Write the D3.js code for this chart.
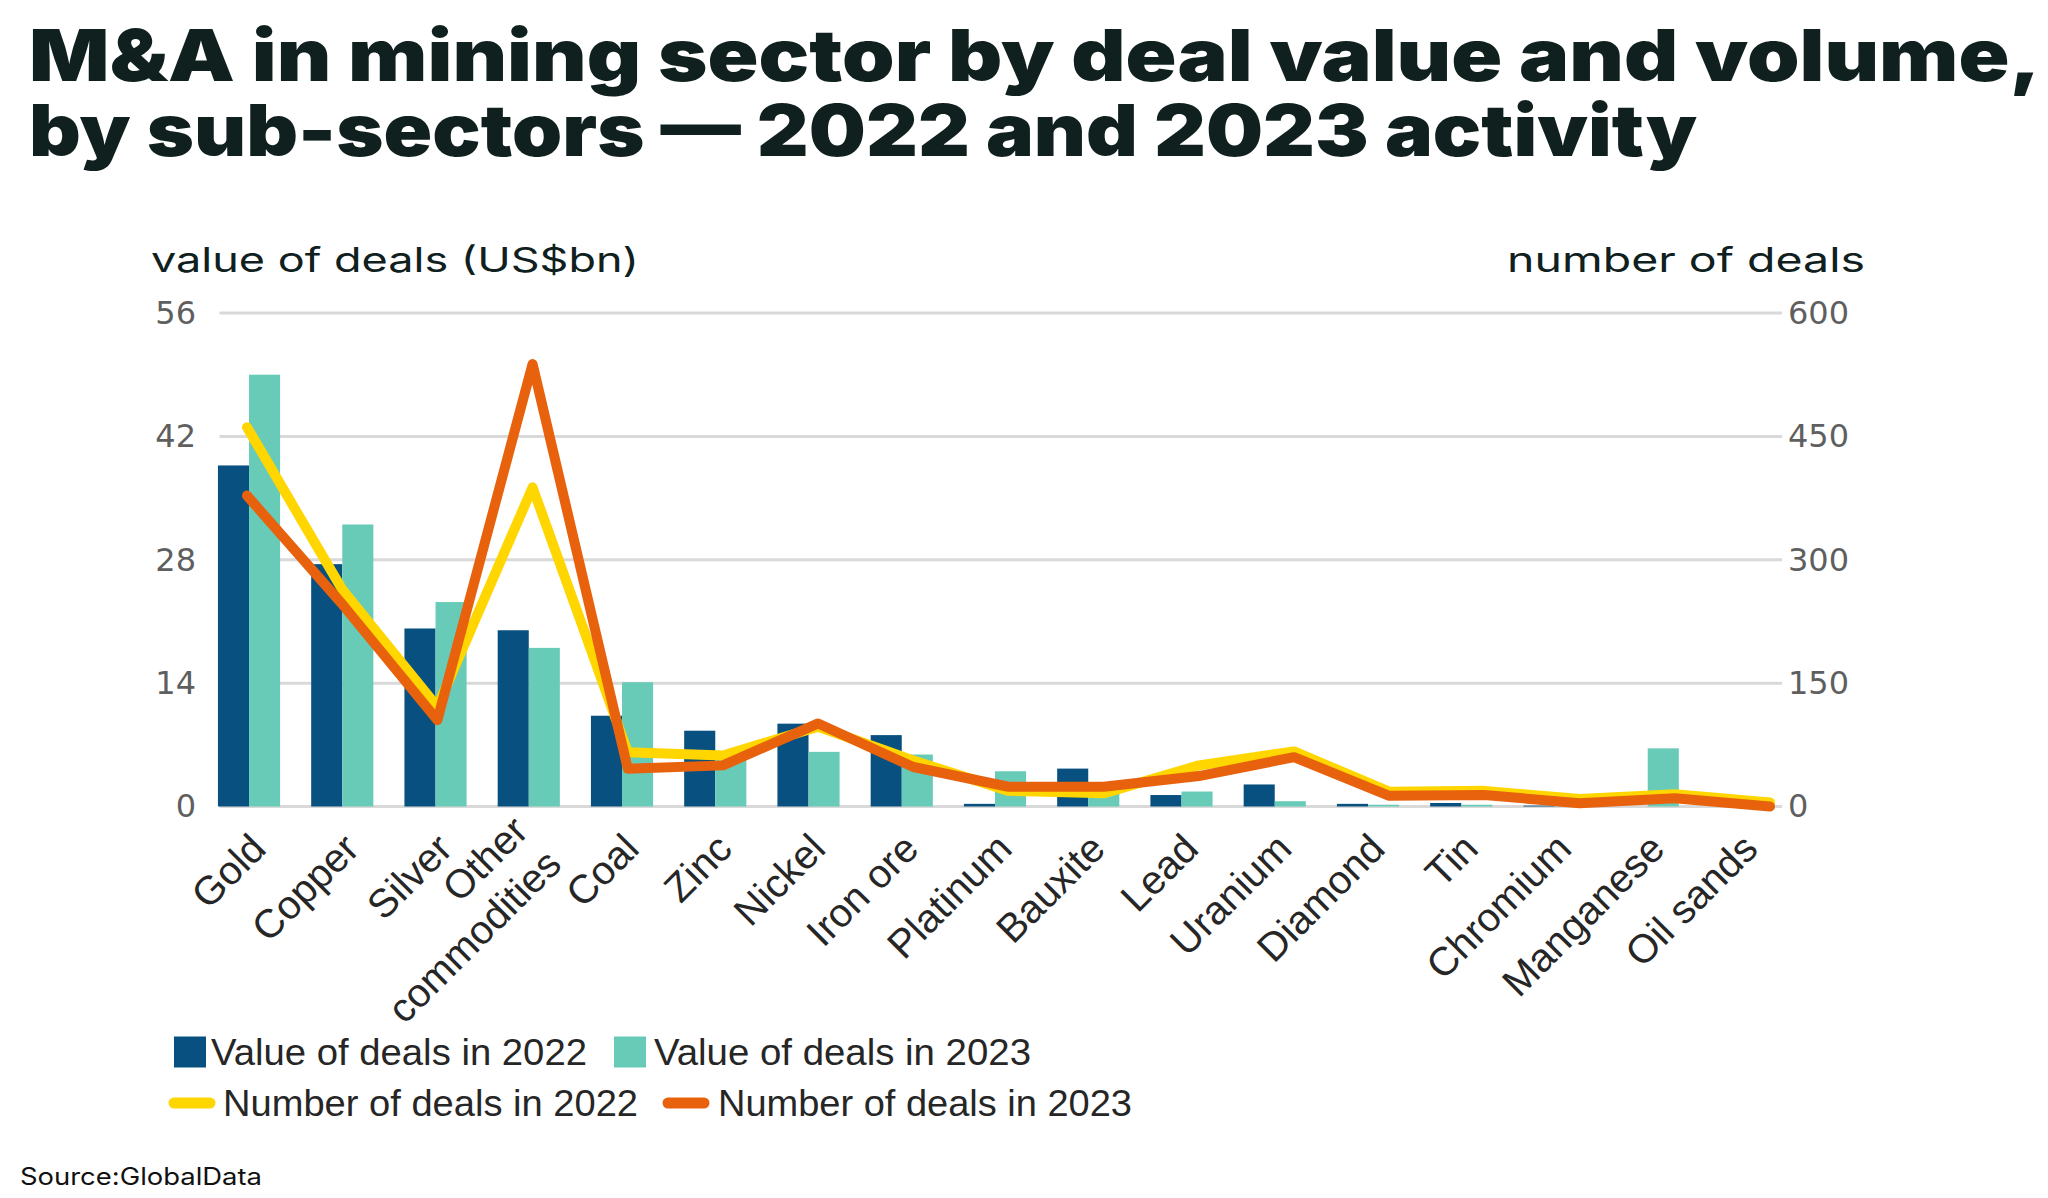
<!DOCTYPE html>
<html>
<head>
<meta charset="utf-8">
<script src="https://cdn.jsdelivr.net/npm/d3@7"></script>
<style>
  body { margin: 0; background: #ffffff; }
  svg { display: block; }
</style>
</head>
<body>
<div id="chart"></div>
<script>
// data
const categories = ["Gold", "Copper", "Silver", "Other commodities", "Coal", "Zinc", "Nickel",
  "Iron ore", "Platinum", "Bauxite", "Lead", "Uranium", "Diamond", "Tin", "Chromium",
  "Manganese", "Oil sands"];
const value2022 = [38.7, 27.5, 20.2, 20.0, 10.3, 8.6, 9.4, 8.1, 0.3, 4.3, 1.3, 2.5, 0.3, 0.4, 0.1, 0, 0];
const value2023 = [49.0, 32.0, 23.2, 18.0, 14.1, 5.3, 6.2, 5.9, 4.0, 1.8, 1.7, 0.6, 0.2, 0.2, 0.1, 6.6, 0];
const deals2022 = [461, 264, 121, 388, 66, 62, 97, 56, 19, 16, 50, 67, 18, 19, 9, 15, 5];
const deals2023 = [378, 246, 105, 538, 46, 50, 101, 48, 24, 24, 37, 60, 13, 14, 4, 10, 0];
const leftTicks = [0, 14, 28, 42, 56];
const rightTicks = [0, 150, 300, 450, 600];

const colors = {v22: "#07507f", v23: "#68cbb8", d22: "#ffd600", d23: "#e8620e"};

const width = 2048, height = 1198;

const svg = d3.select("#chart")
  .append("svg")
    .attr("width", width)
    .attr("height", height);

// scales
const x = d3.scaleBand()
  .domain(categories)
  .range([202.4, 1787.6])
  .paddingInner(1 / 3)
  .paddingOuter(1 / 6);
const xSub = d3.scaleBand()
  .domain(["v22", "v23"])
  .range([0, x.bandwidth()]);
const xLine = d3.scalePoint()
  .domain(categories)
  .range([247, 1770]);
const yLeft = d3.scaleLinear().domain([0, 56]).range([806.5, 313]);
const yRight = d3.scaleLinear().domain([0, 600]).range([806.5, 313]);

// title
const title = svg.append("g")
  .style("font-family", "Inter, 'Open Sans', sans-serif")
  .style("font-weight", 900)
  .style("font-size", "72px")
  .style("fill", "#0f201e");
title.append("text").attr("x", 29).attr("y", 81)
  .attr("textLength", 2012).attr("lengthAdjust", "spacingAndGlyphs")
  .text("M&A in mining sector by deal value and volume,");
title.append("text").attr("x", 29).attr("y", 156)
  .attr("textLength", 1668).attr("lengthAdjust", "spacingAndGlyphs")
  .text("by sub-sectors \u2014 2022 and 2023 activity");

// axis titles
svg.append("text")
  .attr("x", 151).attr("y", 272)
  .attr("textLength", 488).attr("lengthAdjust", "spacingAndGlyphs")
  .style("font-family", "Inter, sans-serif")
  .style("font-size", "34px")
  .style("fill", "#0f201e")
  .text("value of deals (US$bn)");
svg.append("text")
  .attr("x", 1865).attr("y", 272)
  .attr("text-anchor", "end")
  .attr("textLength", 358).attr("lengthAdjust", "spacingAndGlyphs")
  .style("font-family", "Inter, sans-serif")
  .style("font-size", "34px")
  .style("fill", "#0f201e")
  .text("number of deals");

// gridlines
svg.append("g")
  .selectAll("line")
  .data(leftTicks)
  .join("line")
    .attr("x1", 219.5)
    .attr("x2", 1782)
    .attr("y1", d => yLeft(d))
    .attr("y2", d => yLeft(d))
    .attr("stroke", "#d9d9d9")
    .attr("stroke-width", 3);

// axes
const axisL = svg.append("g")
  .attr("transform", "translate(196,0)")
  .call(d3.axisLeft(yLeft).tickValues(leftTicks).tickSize(0).tickPadding(0));
const axisR = svg.append("g")
  .attr("transform", "translate(1788,0)")
  .call(d3.axisRight(yRight).tickValues(rightTicks).tickSize(0).tickPadding(0));
svg.selectAll(".domain").remove();
[axisL, axisR].forEach(a => a.selectAll("text")
  .style("font-family", "'DejaVu Sans', sans-serif")
  .style("font-size", "32px")
  .style("fill", "#5f5f5f"));

// bars
const groups = svg.append("g")
  .selectAll("g")
  .data(categories)
  .join("g")
    .attr("transform", d => `translate(${x(d)},0)`);
groups.selectAll("rect")
  .data((d, i) => [{key: "v22", v: value2022[i]}, {key: "v23", v: value2023[i]}])
  .join("rect")
    .attr("x", d => xSub(d.key))
    .attr("width", xSub.bandwidth())
    .attr("y", d => yLeft(d.v))
    .attr("height", d => yLeft(0) - yLeft(d.v))
    .attr("fill", d => colors[d.key]);

// lines
const line = d3.line()
  .x((d, i) => xLine(categories[i]))
  .y(d => yRight(d));
[[deals2022, colors.d22], [deals2023, colors.d23]].forEach(([s, c]) => {
  svg.append("path")
    .datum(s)
    .attr("d", line)
    .attr("fill", "none")
    .attr("stroke", c)
    .attr("stroke-width", 10)
    .attr("stroke-linejoin", "round")
    .attr("stroke-linecap", "round");
});

// category labels
const labels = svg.append("g")
  .style("font-family", "'Liberation Sans', Arial, sans-serif")
  .style("font-size", "40px")
  .style("fill", "#262626")
  .selectAll("text")
  .data(categories)
  .join("text")
    .attr("text-anchor", "end")
    .attr("transform", d => `translate(${x(d) + x.bandwidth() / 2 + 19},851) rotate(-45)`);
labels.each(function(d) {
  const t = d3.select(this);
  if (d === "Other commodities") {
    t.append("tspan").attr("x", 0).attr("y", -25).text("Other");
    t.append("tspan").attr("x", 0).attr("y", 22).text("commodities");
  } else {
    t.text(d);
  }
});

// legend
const legend = svg.append("g")
  .style("font-family", "'Liberation Sans', Arial, sans-serif")
  .style("font-size", "37px")
  .style("fill", "#262626");
const legendItems = [
  {type: "rect", color: colors.v22, label: "Value of deals in 2022", mx: 174, tx: 211, tw: 376, row: 0},
  {type: "rect", color: colors.v23, label: "Value of deals in 2023", mx: 614, tx: 654, tw: 377, row: 0},
  {type: "line", color: colors.d22, label: "Number of deals in 2022", mx: 174, tx: 223, tw: 415, row: 1},
  {type: "line", color: colors.d23, label: "Number of deals in 2023", mx: 668, tx: 718, tw: 414, row: 1}
];
legendItems.forEach(it => {
  const cy = it.row === 0 ? 1052 : 1103;
  if (it.type === "rect") {
    legend.append("rect")
      .attr("x", it.mx).attr("y", cy - 15.5)
      .attr("width", 32).attr("height", 31)
      .attr("fill", it.color);
  } else {
    legend.append("line")
      .attr("x1", it.mx).attr("x2", it.mx + 36)
      .attr("y1", cy).attr("y2", cy)
      .attr("stroke", it.color)
      .attr("stroke-width", 11)
      .attr("stroke-linecap", "round");
  }
  legend.append("text")
    .attr("x", it.tx).attr("y", cy + 13)
    .attr("textLength", it.tw).attr("lengthAdjust", "spacingAndGlyphs")
    .text(it.label);
});

// source
svg.append("text")
  .attr("x", 20).attr("y", 1185)
  .attr("textLength", 242).attr("lengthAdjust", "spacingAndGlyphs")
  .style("font-family", "Inter, sans-serif")
  .style("font-size", "24px")
  .style("fill", "#111")
  .text("Source:GlobalData");
</script>
</body>
</html>
